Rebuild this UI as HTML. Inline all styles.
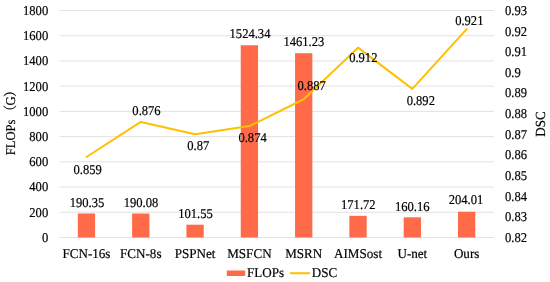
<!DOCTYPE html>
<html><head><meta charset="utf-8"><title>FLOPs and DSC</title>
<style>html,body{margin:0;padding:0;background:#fff;}body{width:550px;height:282px;overflow:hidden;}svg{display:block;}text{text-rendering:geometricPrecision;stroke:#000;stroke-width:0.18px;}</style>
</head><body>
<svg width="550" height="282" viewBox="0 0 550 282" font-family="'Liberation Serif', serif" font-size="12.6" fill="#000">
<rect width="550" height="282" fill="#fff"/>
<line x1="59.3" x2="493.8" y1="10.50" y2="10.50" stroke="#e2e2e2" stroke-width="1"/>
<line x1="59.3" x2="493.8" y1="35.72" y2="35.72" stroke="#e2e2e2" stroke-width="1"/>
<line x1="59.3" x2="493.8" y1="60.94" y2="60.94" stroke="#e2e2e2" stroke-width="1"/>
<line x1="59.3" x2="493.8" y1="86.17" y2="86.17" stroke="#e2e2e2" stroke-width="1"/>
<line x1="59.3" x2="493.8" y1="111.39" y2="111.39" stroke="#e2e2e2" stroke-width="1"/>
<line x1="59.3" x2="493.8" y1="136.61" y2="136.61" stroke="#e2e2e2" stroke-width="1"/>
<line x1="59.3" x2="493.8" y1="161.83" y2="161.83" stroke="#e2e2e2" stroke-width="1"/>
<line x1="59.3" x2="493.8" y1="187.06" y2="187.06" stroke="#e2e2e2" stroke-width="1"/>
<line x1="59.3" x2="493.8" y1="212.28" y2="212.28" stroke="#e2e2e2" stroke-width="1"/>
<line x1="59.3" x2="493.8" y1="237.50" y2="237.50" stroke="#e2e2e2" stroke-width="1"/>
<text transform="translate(48.20,14.90) scale(1,1.07)" text-anchor="end">1800</text>
<text transform="translate(48.20,40.12) scale(1,1.07)" text-anchor="end">1600</text>
<text transform="translate(48.20,65.34) scale(1,1.07)" text-anchor="end">1400</text>
<text transform="translate(48.20,90.57) scale(1,1.07)" text-anchor="end">1200</text>
<text transform="translate(48.20,115.79) scale(1,1.07)" text-anchor="end">1000</text>
<text transform="translate(48.20,141.01) scale(1,1.07)" text-anchor="end">800</text>
<text transform="translate(48.20,166.23) scale(1,1.07)" text-anchor="end">600</text>
<text transform="translate(48.20,191.46) scale(1,1.07)" text-anchor="end">400</text>
<text transform="translate(48.20,216.68) scale(1,1.07)" text-anchor="end">200</text>
<text transform="translate(48.20,241.90) scale(1,1.07)" text-anchor="end">0</text>
<text transform="translate(505.00,14.90) scale(1,1.07)">0.93</text>
<text transform="translate(505.00,35.54) scale(1,1.07)">0.92</text>
<text transform="translate(505.00,56.17) scale(1,1.07)">0.91</text>
<text transform="translate(505.00,76.81) scale(1,1.07)">0.9</text>
<text transform="translate(505.00,97.45) scale(1,1.07)">0.89</text>
<text transform="translate(505.00,118.08) scale(1,1.07)">0.88</text>
<text transform="translate(505.00,138.72) scale(1,1.07)">0.87</text>
<text transform="translate(505.00,159.35) scale(1,1.07)">0.86</text>
<text transform="translate(505.00,179.99) scale(1,1.07)">0.85</text>
<text transform="translate(505.00,200.63) scale(1,1.07)">0.84</text>
<text transform="translate(505.00,221.26) scale(1,1.07)">0.83</text>
<text transform="translate(505.00,241.90) scale(1,1.07)">0.82</text>
<rect x="77.81" y="213.49" width="17.3" height="24.01" fill="#ff6b49"/>
<rect x="132.12" y="213.53" width="17.3" height="23.97" fill="#ff6b49"/>
<rect x="186.43" y="224.69" width="17.3" height="12.81" fill="#ff6b49"/>
<rect x="240.74" y="45.26" width="17.3" height="192.24" fill="#ff6b49"/>
<rect x="295.06" y="53.22" width="17.3" height="184.28" fill="#ff6b49"/>
<rect x="349.37" y="215.84" width="17.3" height="21.66" fill="#ff6b49"/>
<rect x="403.68" y="217.30" width="17.3" height="20.20" fill="#ff6b49"/>
<rect x="457.99" y="211.77" width="17.3" height="25.73" fill="#ff6b49"/>
<polyline points="86.46,157.02 140.77,121.94 195.08,134.32 249.39,126.06 303.71,99.24 358.02,47.65 412.33,88.92 466.64,29.07" fill="none" stroke="#ffc000" stroke-width="2" stroke-linejoin="round" stroke-linecap="round"/>
<text transform="translate(87.00,207.20) scale(1,1.07)" text-anchor="middle">190.35</text>
<text transform="translate(141.00,207.20) scale(1,1.07)" text-anchor="middle">190.08</text>
<text transform="translate(195.50,218.10) scale(1,1.07)" text-anchor="middle">101.55</text>
<text transform="translate(250.00,38.00) scale(1,1.07)" text-anchor="middle">1524.34</text>
<text transform="translate(303.90,46.10) scale(1,1.07)" text-anchor="middle">1461.23</text>
<text transform="translate(358.30,209.10) scale(1,1.07)" text-anchor="middle">171.72</text>
<text transform="translate(412.20,210.70) scale(1,1.07)" text-anchor="middle">160.16</text>
<text transform="translate(466.00,204.20) scale(1,1.07)" text-anchor="middle">204.01</text>
<text transform="translate(87.70,174.20) scale(1,1.07)" text-anchor="middle">0.859</text>
<text transform="translate(146.50,115.30) scale(1,1.07)" text-anchor="middle">0.876</text>
<text transform="translate(198.20,150.30) scale(1,1.07)" text-anchor="middle">0.87</text>
<text transform="translate(252.60,142.30) scale(1,1.07)" text-anchor="middle">0.874</text>
<text transform="translate(311.70,90.30) scale(1,1.07)" text-anchor="middle">0.887</text>
<text transform="translate(363.30,62.00) scale(1,1.07)" text-anchor="middle">0.912</text>
<text transform="translate(420.80,105.00) scale(1,1.07)" text-anchor="middle">0.892</text>
<text transform="translate(469.30,24.90) scale(1,1.07)" text-anchor="middle">0.921</text>
<text transform="translate(86.46,257.60) scale(1,1.03)" text-anchor="middle" font-size="13.1">FCN-16s</text>
<text transform="translate(140.77,257.60) scale(1,1.03)" text-anchor="middle" font-size="13.1">FCN-8s</text>
<text transform="translate(195.08,257.60) scale(1,1.03)" text-anchor="middle" font-size="13.1">PSPNet</text>
<text transform="translate(249.39,257.60) scale(1,1.03)" text-anchor="middle" font-size="13.1">MSFCN</text>
<text transform="translate(303.71,257.60) scale(1,1.03)" text-anchor="middle" font-size="13.1">MSRN</text>
<text transform="translate(358.02,257.60) scale(1,1.03)" text-anchor="middle" font-size="13.1">AIMSost</text>
<text transform="translate(412.33,257.60) scale(1,1.03)" text-anchor="middle" font-size="13.1">U-net</text>
<text transform="translate(466.64,257.60) scale(1,1.03)" text-anchor="middle" font-size="13.1">Ours</text>
<text transform="translate(15.4,155.3) rotate(-90) scale(1,1.07)" font-family="'Liberation Serif', 'Noto Serif CJK SC', serif">FLOPs<tspan dx="2.2">（</tspan><tspan dx="-0.7">G</tspan><tspan dx="-0.7">）</tspan></text>
<text transform="translate(544.8,124.0) rotate(-90) scale(1,1.07)" font-size="13" text-anchor="middle">DSC</text>
<rect x="226.8" y="270.5" width="18.4" height="5.5" fill="#ff6b49"/>
<text transform="translate(247.00,276.70) scale(1,1.03)" font-size="13.1">FLOPs</text>
<line x1="290" x2="310" y1="273.2" y2="273.2" stroke="#ffc000" stroke-width="2"/>
<text transform="translate(311.70,276.70) scale(1,1.03)" font-size="13.1">DSC</text>
</svg>
</body></html>
